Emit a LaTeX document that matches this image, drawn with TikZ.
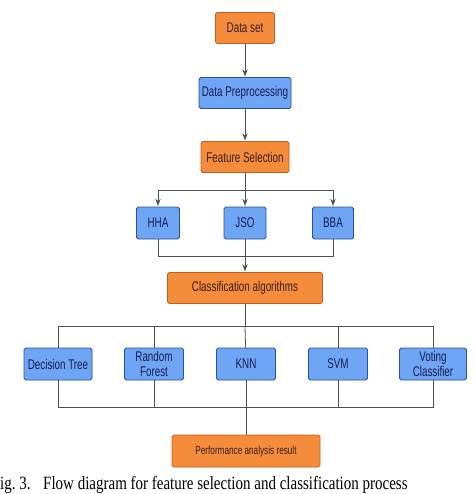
\documentclass[tikz,border=0pt]{standalone}
\usepackage{fontspec}
\usepackage{tikz}
\usetikzlibrary{arrows.meta}
\newfontfamily\boxfont[FakeStretch=0.7]{Liberation Sans}
\newfontfamily\capfont[FakeStretch=0.8]{Liberation Serif}
\definecolor{boxorange}{RGB}{245,140,60}
\definecolor{edgeorange}{RGB}{190,95,30}
\definecolor{boxblue}{RGB}{110,165,245}
\definecolor{edgeblue}{RGB}{45,80,150}
\definecolor{textnavy}{RGB}{25,30,80}
\definecolor{textbrown}{RGB}{55,30,35}
\definecolor{linegray}{RGB}{80,80,80}

\begin{document}
\begin{tikzpicture}[x=0.03cm, y=-0.03cm, >=Stealth,
    orangebox/.style={draw=edgeorange, fill=boxorange, line width=0.8pt,
      rounded corners=1.5pt, text=textbrown, inner sep=1pt, align=center,
      font=\boxfont\fontsize{12}{12.5}\selectfont},
    bluebox/.style={draw=edgeblue, fill=boxblue, line width=0.8pt,
      rounded corners=1.5pt, text=textnavy, inner sep=1pt, align=center,
      font=\boxfont\fontsize{12}{12.5}\selectfont},
    link/.style={draw=linegray, line width=0.7pt},
    flow/.style={link, ->, shorten >=0.5pt}]
  % Frame
  \fill[white] (0,0) rectangle (474,494);
  \useasboundingbox (0,0) rectangle (474,494);

  % Upper chain
  \node[orangebox, minimum width=59*0.03cm, minimum height=31*0.03cm] (data) at (245,28) {Data set};
  \node[bluebox, minimum width=92*0.03cm, minimum height=31*0.03cm] (prep) at (245,93) {Data Preprocessing};
  \node[orangebox, minimum width=88*0.03cm, minimum height=31*0.03cm] (feat) at (245,157) {Feature Selection};

  % Selection methods
  \node[bluebox, minimum width=43*0.03cm, minimum height=32*0.03cm] (hha) at (158,223) {HHA};
  \node[bluebox, minimum width=42*0.03cm, minimum height=32*0.03cm] (jso) at (245,223) {JSO};
  \node[bluebox, minimum width=41*0.03cm, minimum height=32*0.03cm] (bba) at (333,223) {BBA};

  \node[orangebox, minimum width=155*0.03cm, minimum height=31*0.03cm] (cls) at (245,288) {Classification algorithms};

  % Classifiers
  \node[bluebox, minimum width=68*0.03cm, minimum height=32*0.03cm] (dt) at (58,364) {Decision Tree};
  \node[bluebox, minimum width=59*0.03cm, minimum height=32*0.03cm] (rf) at (154,364) {Random\\Forest};
  \node[bluebox, minimum width=59*0.03cm, minimum height=32*0.03cm] (knn) at (246,364) {KNN};
  \node[bluebox, minimum width=59*0.03cm, minimum height=32*0.03cm] (svm) at (338,364) {SVM};
  \node[bluebox, minimum width=67*0.03cm, minimum height=32*0.03cm] (vc) at (433,364) {Voting\\Classifier};

  \node[orangebox, minimum width=148*0.03cm, minimum height=32*0.03cm,
        font=\boxfont\fontsize{10}{11}\selectfont] (perf) at (246,451) {Performance analysis result};

  % Junctions
  \coordinate (split1) at (245,190);
  \coordinate (merge1) at (245,256);
  \coordinate (split2) at (245,326);
  \coordinate (merge2) at (246,407);

  % Connectors
  \draw[flow] (data) -- (prep);
  \draw[flow] (prep) -- (feat);
  \draw[link] (feat) -- (split1);
  \draw[flow] (split1) -| (hha);
  \draw[flow] (split1) -- (jso);
  \draw[flow] (split1) -| (bba);
  \draw[link] (hha) |- (merge1);
  \draw[link] (jso) -- (merge1);
  \draw[link] (bba) |- (merge1);
  \draw[flow] (merge1) -- (cls);
  \draw[link] (cls) -- (split2);
  \foreach \c in {dt, rf, svm, vc}
    \draw[link] (split2) -| (\c);
  \draw[link] (split2) -- (knn);
  \foreach \c in {dt, rf, svm, vc}
    \draw[link] (\c) |- (merge2);
  \draw[link] (knn) -- (merge2);
  \draw[link] (merge2) -- (perf);

  % Caption
  \node[anchor=base west, inner sep=0pt, font=\capfont\fontsize{16}{18}\selectfont] (capnum) at (0,489) {ig.~3.};
  \node[anchor=base west, inner sep=0pt, font=\capfont\fontsize{16}{18}\selectfont] (captext) at (43,489) {Flow diagram for feature selection and classification process};
\end{tikzpicture}
\end{document}
